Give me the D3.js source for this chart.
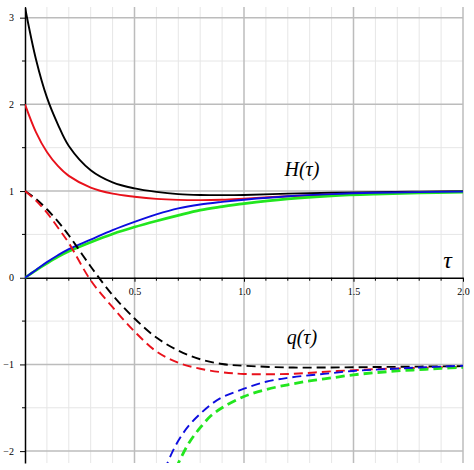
<!DOCTYPE html>
<html>
<head>
<meta charset="utf-8">
<script src="https://cdn.jsdelivr.net/npm/d3@7"></script>
<style>
  body { margin: 0; background: #fff; }
  svg { display: block; }
</style>
</head>
<body>
<svg></svg>
<script>
// tau grid the curves were read on
const tau = [0, 0.05, 0.1, 0.15, 0.2, 0.3, 0.4, 0.5, 0.6, 0.7, 0.8, 0.9, 1.0, 1.2, 1.4, 1.6, 1.8, 2.0];

// H(tau), solid lines
const hBlack = [3.12, 2.52, 2.08, 1.77, 1.52, 1.24, 1.10, 1.03, 0.99, 0.965, 0.955, 0.953, 0.955, 0.97, 0.98, 0.988, 0.993, 0.997];
const hRed   = [2.0, 1.68, 1.45, 1.29, 1.175, 1.04, 0.97, 0.935, 0.91, 0.898, 0.895, 0.90, 0.912, 0.94, 0.96, 0.975, 0.985, 0.99];
const hBlue  = [0, 0.09, 0.18, 0.26, 0.33, 0.44, 0.55, 0.645, 0.73, 0.80, 0.845, 0.875, 0.90, 0.94, 0.965, 0.98, 0.988, 0.993];
const hGreen = [0, 0.085, 0.165, 0.24, 0.305, 0.41, 0.505, 0.585, 0.655, 0.72, 0.78, 0.82, 0.855, 0.91, 0.945, 0.965, 0.978, 0.988];

// q(tau), dashed lines
const qBlack = [1.0, 0.91, 0.79, 0.65, 0.49, 0.13, -0.2, -0.47, -0.69, -0.84, -0.94, -0.995, -1.015, -1.035, -1.035, -1.03, -1.025, -1.02];
const qRed   = [1.0, 0.89, 0.75, 0.58, 0.40, -0.03, -0.34, -0.62, -0.85, -0.98, -1.05, -1.09, -1.11, -1.11, -1.08, -1.055, -1.04, -1.027];

// the blue / green q branches only come in from the bottom
const tauBlue  = [0.64, 0.65, 0.7, 0.75, 0.8, 0.85, 0.9, 1.0, 1.1, 1.2, 1.3, 1.4, 1.5, 1.6, 1.7, 1.8, 1.9, 2.0];
const qBlue    = [-2.22, -2.14, -1.88, -1.70, -1.57, -1.46, -1.38, -1.28, -1.20, -1.155, -1.125, -1.10, -1.075, -1.06, -1.048, -1.035, -1.025, -1.015];
const tauGreen = [0.69, 0.7, 0.75, 0.8, 0.85, 0.9, 1.0, 1.1, 1.2, 1.3, 1.4, 1.5, 1.6, 1.7, 1.8, 1.9, 2.0];
const qGreen   = [-2.2, -2.14, -1.90, -1.73, -1.59, -1.50, -1.37, -1.29, -1.235, -1.19, -1.155, -1.12, -1.095, -1.075, -1.06, -1.045, -1.035];

const yTicks = [-2, -1, 0, 1, 2, 3];
const xTicks = [0.5, 1.0, 1.5, 2.0];

const width = 474,
      height = 470,
      pLeft = 25, pRight = 463,      // plot box
      pTop = 7, pBottom = 463;

const svg = d3.select("svg")
  .attr("width", width)
  .attr("height", height);

const x = d3.scaleLinear().domain([0, 2]).range([pLeft, pRight]);
const y = d3.scaleLinear().domain([-2.137, 3.123]).range([pBottom, pTop]);

svg.append("defs").append("clipPath")
  .attr("id", "plot")
  .append("rect")
  .attr("x", pLeft).attr("y", pTop)
  .attr("width", pRight - pLeft).attr("height", pBottom - pTop);

// grid: minor first, then major
const grid = svg.append("g");
const xMinor = d3.range(0.1, 2.01, 0.1).filter(v => Math.abs(v * 2 - Math.round(v * 2)) > 1e-6);
const yMinor = [-1.5, -0.5, 0.5, 1.5, 2.5];

grid.selectAll(".vminor").data(xMinor).enter().append("line")
  .attr("x1", d => x(d)).attr("x2", d => x(d))
  .attr("y1", pTop).attr("y2", pBottom)
  .attr("stroke", "#e6e6e6").attr("stroke-width", 1);

grid.selectAll(".hminor").data(yMinor).enter().append("line")
  .attr("x1", pLeft).attr("x2", pRight)
  .attr("y1", d => y(d)).attr("y2", d => y(d))
  .attr("stroke", "#e6e6e6").attr("stroke-width", 1);

grid.selectAll(".vmajor").data(xTicks).enter().append("line")
  .attr("x1", d => x(d)).attr("x2", d => x(d))
  .attr("y1", pTop).attr("y2", pBottom)
  .attr("stroke", "#bcbcbc").attr("stroke-width", 1.5);

grid.selectAll(".hmajor").data(yTicks.filter(d => d !== 0)).enter().append("line")
  .attr("x1", pLeft).attr("x2", pRight)
  .attr("y1", d => y(d)).attr("y2", d => y(d))
  .attr("stroke", "#bcbcbc").attr("stroke-width", 1.5);

// axes
const font = "'Liberation Serif', 'DejaVu Serif', serif";

const xAxis = svg.append("g")
  .attr("transform", "translate(0," + y(0) + ")")
  .call(d3.axisBottom(x).tickValues(xTicks).tickFormat(d3.format(".1f"))
    .tickSize(4).tickSizeOuter(0).tickPadding(6));
xAxis.append("g").selectAll("line")
  .data(xMinor).enter().append("line")
  .attr("x1", d => x(d)).attr("x2", d => x(d))
  .attr("y1", 0).attr("y2", 3)
  .attr("stroke", "#000");

const yAxis = svg.append("g")
  .attr("transform", "translate(" + pLeft + ",0)")
  .call(d3.axisLeft(y).tickValues(yTicks).tickFormat(d3.format("d"))
    .tickSize(5).tickSizeOuter(0).tickPadding(6));
yAxis.append("g").selectAll("line")
  .data(yMinor).enter().append("line")
  .attr("x1", -3).attr("x2", 0)
  .attr("y1", d => y(d)).attr("y2", d => y(d))
  .attr("stroke", "#000");

[xAxis, yAxis].forEach(a => {
  a.attr("font-family", font);
  a.select(".domain").attr("stroke", "#000").attr("stroke-width", 1.5);
  a.selectAll("text").attr("font-family", font).attr("font-size", 10).attr("fill", "#000");
});

// curves
const line = d3.line()
  .x(d => x(d[0]))
  .y(d => y(d[1]))
  .curve(d3.curveCatmullRom);

const curves = [
  { t: tau, v: hBlack, color: "#000000", w: 1.9, dash: null },
  { t: tau, v: hRed, color: "#e8111b", w: 1.9, dash: null },
  { t: tau, v: hGreen, color: "#22e61e", w: 2.7, dash: null },
  { t: tau, v: hBlue, color: "#0d0ddf", w: 1.9, dash: null },
  { t: tau, v: qBlack, color: "#000000", w: 1.9, dash: "9,5" },
  { t: tau, v: qRed, color: "#e8111b", w: 1.9, dash: "9,5" },
  { t: tauGreen, v: qGreen, color: "#22e61e", w: 2.8, dash: "9,5" },
  { t: tauBlue, v: qBlue, color: "#0d0ddf", w: 1.9, dash: "9,5" }
];

svg.append("g")
  .attr("clip-path", "url(#plot)")
  .selectAll("path")
  .data(curves).enter().append("path")
  .attr("d", c => line(c.t.map((t, i) => [t, c.v[i]])))
  .attr("fill", "none")
  .attr("stroke", c => c.color)
  .attr("stroke-width", c => c.w)
  .attr("stroke-dasharray", c => c.dash);

// labels
const labels = [
  { text: "H(τ)", tx: 1.185, ty: 1.17, size: 20 },
  { text: "q(τ)", tx: 1.195, ty: -0.76, size: 20 },
  { text: "τ", tx: 1.91, ty: 0.11, size: 24 }
];

svg.selectAll(".lbl").data(labels).enter().append("text")
  .attr("x", d => x(d.tx))
  .attr("y", d => y(d.ty))
  .attr("font-family", font)
  .attr("font-style", "italic")
  .attr("font-size", d => d.size)
  .attr("fill", "#000")
  .text(d => d.text);
</script>
</body>
</html>
